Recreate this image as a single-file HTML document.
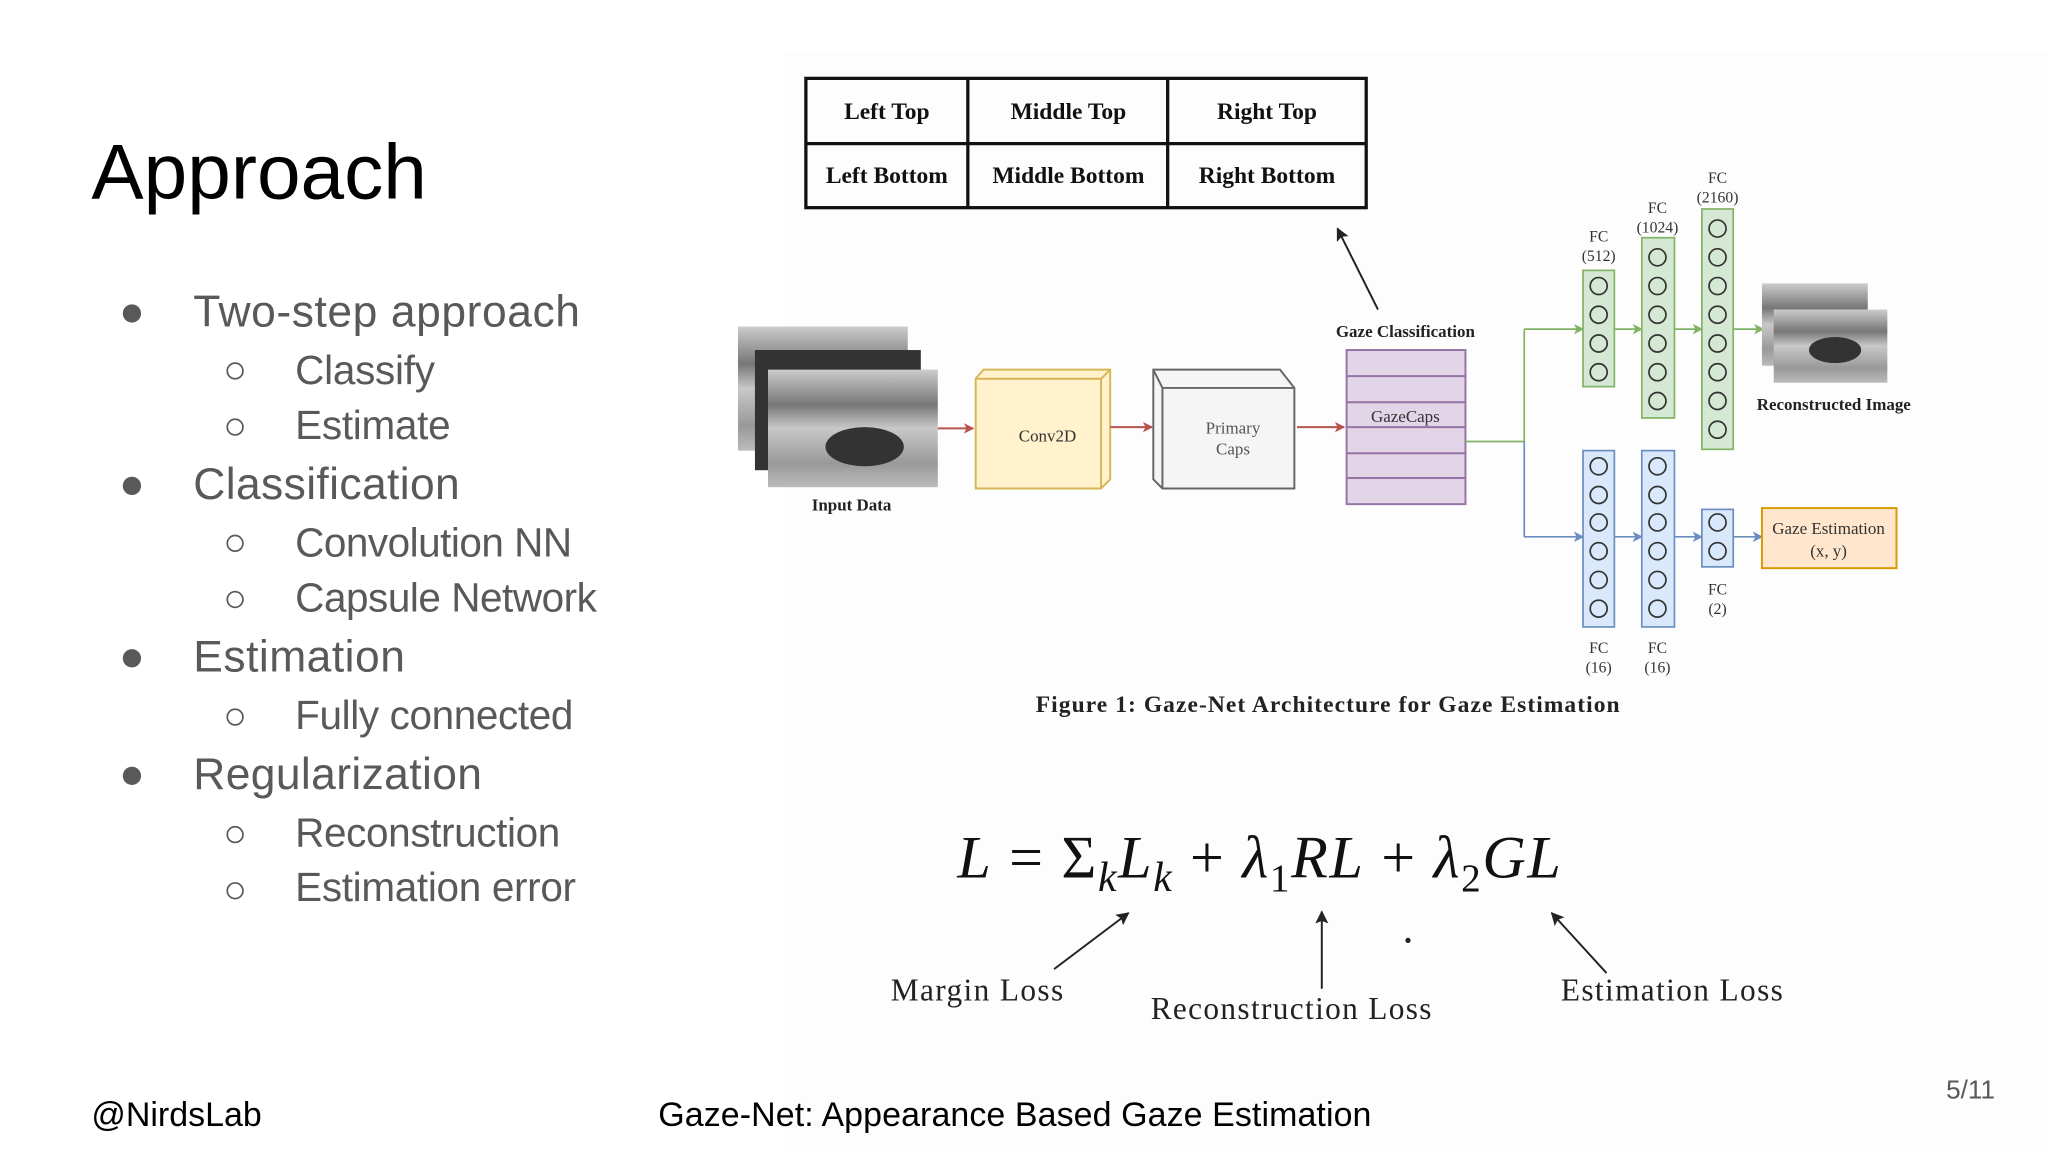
<!DOCTYPE html>
<html><head><meta charset="utf-8"><style>
html,body{margin:0;padding:0;background:#fff;width:2048px;height:1152px;overflow:hidden}
svg{display:block}
.s{font-family:"Liberation Sans",sans-serif}
.r{font-family:"Liberation Serif",serif}
</style></head><body>
<svg width="2048" height="1152" viewBox="0 0 1568 882" xmlns="http://www.w3.org/2000/svg">
<defs>
<marker id="ar" markerWidth="8" markerHeight="8" refX="7" refY="4" orient="auto" markerUnits="userSpaceOnUse"><path d="M0,0 L8,4 L0,8 L2,4z" fill="#b85450"/></marker>
<marker id="ag" markerWidth="8" markerHeight="8" refX="7" refY="4" orient="auto" markerUnits="userSpaceOnUse"><path d="M0,0 L8,4 L0,8 L2,4z" fill="#82b366"/></marker>
<marker id="ab" markerWidth="8" markerHeight="8" refX="7" refY="4" orient="auto" markerUnits="userSpaceOnUse"><path d="M0,0 L8,4 L0,8 L2,4z" fill="#6c8ebf"/></marker>
<marker id="ak" markerWidth="10" markerHeight="10" refX="9" refY="5" orient="auto" markerUnits="userSpaceOnUse"><path d="M0,0 L10,5 L0,10 L2,5z" fill="#222"/></marker>
<linearGradient id="eye" x1="0" y1="0" x2="0" y2="1"><stop offset="0" stop-color="#ccc"/><stop offset="0.3" stop-color="#777"/><stop offset="0.5" stop-color="#c8c8c8"/><stop offset="0.8" stop-color="#999"/><stop offset="1" stop-color="#bbb"/></linearGradient>
</defs>
<rect x="600" y="40" width="968" height="842" fill="#fdfdfd"/>
<text x="70" y="152" class="s" font-size="60" fill="#000">Approach</text>
<g class="s" fill="#595959">
<circle cx="101" cy="240" r="7"/><text x="148" y="250" font-size="34" textLength="296">Two-step approach</text>
<circle cx="180" cy="284" r="6" fill="none" stroke="#595959" stroke-width="1.3"/><text x="226" y="294" font-size="31" textLength="107">Classify</text>
<circle cx="180" cy="327" r="6" fill="none" stroke="#595959" stroke-width="1.3"/><text x="226" y="336" font-size="31" textLength="119">Estimate</text>
<circle cx="101" cy="372" r="7"/><text x="148" y="382" font-size="34" textLength="204">Classification</text>
<circle cx="180" cy="416" r="6" fill="none" stroke="#595959" stroke-width="1.3"/><text x="226" y="426" font-size="31" textLength="212">Convolution NN</text>
<circle cx="180" cy="459" r="6" fill="none" stroke="#595959" stroke-width="1.3"/><text x="226" y="468" font-size="31" textLength="231">Capsule Network</text>
<circle cx="101" cy="504" r="7"/><text x="148" y="514" font-size="34" textLength="162">Estimation</text>
<circle cx="180" cy="549" r="6" fill="none" stroke="#595959" stroke-width="1.3"/><text x="226" y="558" font-size="31" textLength="213">Fully connected</text>
<circle cx="101" cy="594" r="7"/><text x="148" y="604" font-size="34" textLength="221">Regularization</text>
<circle cx="180" cy="639" r="6" fill="none" stroke="#595959" stroke-width="1.3"/><text x="226" y="648" font-size="31" textLength="203">Reconstruction</text>
<circle cx="180" cy="682" r="6" fill="none" stroke="#595959" stroke-width="1.3"/><text x="226" y="690" font-size="31" textLength="215">Estimation error</text>
</g>
<text x="70" y="862" class="s" font-size="26" fill="#000">@NirdsLab</text>
<text x="504" y="862" class="s" font-size="26" fill="#000" textLength="546">Gaze-Net: Appearance Based Gaze Estimation</text>
<text x="1490" y="841" class="s" font-size="20" fill="#595959">5/11</text>
<g fill="none" stroke="#111" stroke-width="2.5">
<rect x="617" y="60" width="429" height="99"/>
<line x1="617" y1="110" x2="1046" y2="110"/>
<line x1="741" y1="60" x2="741" y2="159"/>
<line x1="894" y1="60" x2="894" y2="159"/>
</g>
<g class="r" font-size="18" font-weight="bold" text-anchor="middle" fill="#111">
<text x="679" y="91">Left Top</text><text x="818" y="91">Middle Top</text><text x="970" y="91">Right Top</text>
<text x="679" y="140">Left Bottom</text><text x="818" y="140">Middle Bottom</text><text x="970" y="140">Right Bottom</text>
</g>
<rect x="565" y="250" width="130" height="95" fill="url(#eye)"/>
<rect x="578" y="268" width="127" height="92" fill="#333"/>
<rect x="588" y="283" width="130" height="90" fill="url(#eye)"/>
<ellipse cx="662" cy="342" rx="30" ry="15" fill="#333"/>
<text x="652" y="391" class="r" font-size="13" font-weight="bold" text-anchor="middle" fill="#222">Input Data</text>
<line x1="718" y1="328" x2="745" y2="328" stroke="#b85450" stroke-width="1.5" marker-end="url(#ar)"/>
<path d="M747,290 L753,283 L850,283 L850,367 L843,374 L747,374Z" fill="#fff2cc" stroke="#d6b656" stroke-width="1.5"/>
<path d="M747,290 L843,290 L850,283 M843,290 L843,374" fill="none" stroke="#d6b656" stroke-width="1.5"/>
<text x="802" y="338" class="r" font-size="13" text-anchor="middle" fill="#333">Conv2D</text>
<line x1="850" y1="327" x2="882" y2="327" stroke="#b85450" stroke-width="1.5" marker-end="url(#ar)"/>
<path d="M883,297 L883,283 L980,283 L991,297 L991,374 L890,374 L883,367Z" fill="#f5f5f5" stroke="#666" stroke-width="1.5"/>
<path d="M883,283 L890,297 L991,297 M890,297 L890,374" fill="none" stroke="#666" stroke-width="1.5"/>
<text x="944" y="332" class="r" font-size="13" text-anchor="middle" fill="#555">Primary</text>
<text x="944" y="348" class="r" font-size="13" text-anchor="middle" fill="#555">Caps</text>
<line x1="993" y1="327" x2="1029" y2="327" stroke="#b85450" stroke-width="1.5" marker-end="url(#ar)"/>
<rect x="1031" y="268" width="91" height="118" fill="#e1d5e7" stroke="#9673a6" stroke-width="1.5"/>
<g stroke="#9673a6" stroke-width="1.5"><line x1="1031" y1="288" x2="1122" y2="288"/><line x1="1031" y1="308" x2="1122" y2="308"/><line x1="1031" y1="327" x2="1122" y2="327"/><line x1="1031" y1="347" x2="1122" y2="347"/><line x1="1031" y1="366" x2="1122" y2="366"/></g>
<text x="1076" y="323" class="r" font-size="13" text-anchor="middle" fill="#333">GazeCaps</text>
<text x="1076" y="258" class="r" font-size="13" font-weight="bold" text-anchor="middle" fill="#222">Gaze Classification</text>
<line x1="1055" y1="237" x2="1024" y2="175" stroke="#222" stroke-width="1.5" marker-end="url(#ak)"/>
<path d="M1122,338 H1167 V252" fill="none" stroke="#82b366" stroke-width="1.3"/>
<path d="M1167,338 V411" fill="none" stroke="#6c8ebf" stroke-width="1.3"/>
<line x1="1167" y1="252" x2="1212" y2="252" stroke="#82b366" stroke-width="1.3" marker-end="url(#ag)"/>
<line x1="1167" y1="411" x2="1212" y2="411" stroke="#6c8ebf" stroke-width="1.3" marker-end="url(#ab)"/>
<line x1="1236" y1="252" x2="1257" y2="252" stroke="#82b366" stroke-width="1.3" marker-end="url(#ag)"/>
<line x1="1282" y1="252" x2="1303" y2="252" stroke="#82b366" stroke-width="1.3" marker-end="url(#ag)"/>
<line x1="1327" y1="252" x2="1350" y2="252" stroke="#82b366" stroke-width="1.3" marker-end="url(#ag)"/>
<line x1="1236" y1="411" x2="1257" y2="411" stroke="#6c8ebf" stroke-width="1.3" marker-end="url(#ab)"/>
<line x1="1282" y1="411" x2="1303" y2="411" stroke="#6c8ebf" stroke-width="1.3" marker-end="url(#ab)"/>
<line x1="1327" y1="411" x2="1349" y2="411" stroke="#6c8ebf" stroke-width="1.3" marker-end="url(#ab)"/>
<g fill="#d5e8d4" stroke="#82b366" stroke-width="1.3">
<rect x="1212" y="207" width="24" height="89"/><rect x="1257" y="182" width="25" height="138"/><rect x="1303" y="160" width="24" height="184"/>
</g>
<g fill="none" stroke="#333" stroke-width="1.3">
<circle cx="1224" cy="219" r="6.5"/><circle cx="1224" cy="241" r="6.5"/><circle cx="1224" cy="263" r="6.5"/><circle cx="1224" cy="285" r="6.5"/>
<circle cx="1269" cy="197" r="6.5"/><circle cx="1269" cy="219" r="6.5"/><circle cx="1269" cy="241" r="6.5"/><circle cx="1269" cy="263" r="6.5"/><circle cx="1269" cy="285" r="6.5"/><circle cx="1269" cy="307" r="6.5"/>
<circle cx="1315" cy="175" r="6.5"/><circle cx="1315" cy="197" r="6.5"/><circle cx="1315" cy="219" r="6.5"/><circle cx="1315" cy="241" r="6.5"/><circle cx="1315" cy="263" r="6.5"/><circle cx="1315" cy="285" r="6.5"/><circle cx="1315" cy="307" r="6.5"/><circle cx="1315" cy="329" r="6.5"/>
</g>
<g fill="#dae8fc" stroke="#6c8ebf" stroke-width="1.3">
<rect x="1212" y="345" width="24" height="135"/><rect x="1257" y="345" width="25" height="135"/><rect x="1303" y="390" width="24" height="44"/>
</g>
<g fill="none" stroke="#333" stroke-width="1.3">
<circle cx="1224" cy="357" r="6.5"/><circle cx="1224" cy="379" r="6.5"/><circle cx="1224" cy="400" r="6.5"/><circle cx="1224" cy="422" r="6.5"/><circle cx="1224" cy="444" r="6.5"/><circle cx="1224" cy="466" r="6.5"/>
<circle cx="1269" cy="357" r="6.5"/><circle cx="1269" cy="379" r="6.5"/><circle cx="1269" cy="400" r="6.5"/><circle cx="1269" cy="422" r="6.5"/><circle cx="1269" cy="444" r="6.5"/><circle cx="1269" cy="466" r="6.5"/>
<circle cx="1315" cy="400" r="6.5"/><circle cx="1315" cy="422" r="6.5"/>
</g>
<g class="r" font-size="12" text-anchor="middle" fill="#333">
<text x="1224" y="185">FC</text><text x="1224" y="200">(512)</text>
<text x="1269" y="163">FC</text><text x="1269" y="178">(1024)</text>
<text x="1315" y="140">FC</text><text x="1315" y="155">(2160)</text>
<text x="1224" y="500">FC</text><text x="1224" y="515">(16)</text>
<text x="1269" y="500">FC</text><text x="1269" y="515">(16)</text>
<text x="1315" y="455">FC</text><text x="1315" y="470">(2)</text>
</g>
<rect x="1349" y="217" width="81" height="63" fill="url(#eye)"/>
<rect x="1358" y="237" width="87" height="56" fill="url(#eye)"/>
<ellipse cx="1405" cy="268" rx="20" ry="10" fill="#333"/>
<text x="1404" y="314" class="r" font-size="13" font-weight="bold" text-anchor="middle" fill="#222">Reconstructed Image</text>
<rect x="1349" y="389" width="103" height="46" fill="#ffe6cc" stroke="#d79b00" stroke-width="1.5"/>
<text x="1400" y="409" class="r" font-size="13" text-anchor="middle" fill="#333">Gaze Estimation</text>
<text x="1400" y="426" class="r" font-size="13" text-anchor="middle" fill="#333">(x, y)</text>
<text x="793" y="545" class="r" font-size="18" font-weight="bold" fill="#222" textLength="447">Figure 1: Gaze-Net Architecture for Gaze Estimation</text>
<text x="733" y="672" class="r" font-size="46" fill="#111" textLength="462"><tspan font-style="italic">L</tspan> = Σ<tspan font-style="italic" font-size="32" dy="10">k</tspan><tspan font-style="italic" dy="-10">L</tspan><tspan font-style="italic" font-size="32" dy="10">k</tspan><tspan dy="-10"> + </tspan><tspan font-style="italic">λ</tspan><tspan font-size="30" dy="10">1</tspan><tspan font-style="italic" dy="-10">RL</tspan> + <tspan font-style="italic">λ</tspan><tspan font-size="30" dy="10">2</tspan><tspan font-style="italic" dy="-10">GL</tspan></text>
<line x1="807" y1="742" x2="864" y2="699" stroke="#222" stroke-width="1.5" marker-end="url(#ak)"/>
<line x1="1012" y1="757" x2="1012" y2="698" stroke="#222" stroke-width="1.5" marker-end="url(#ak)"/>
<line x1="1230" y1="745" x2="1188" y2="699" stroke="#222" stroke-width="1.5" marker-end="url(#ak)"/>
<circle cx="1078" cy="720" r="2" fill="#222"/>
<g class="r" font-size="24" fill="#222">
<text x="682" y="766" textLength="132">Margin Loss</text>
<text x="881" y="780" textLength="215">Reconstruction Loss</text>
<text x="1195" y="766" textLength="170">Estimation Loss</text>
</g>
</svg>
</body></html>
